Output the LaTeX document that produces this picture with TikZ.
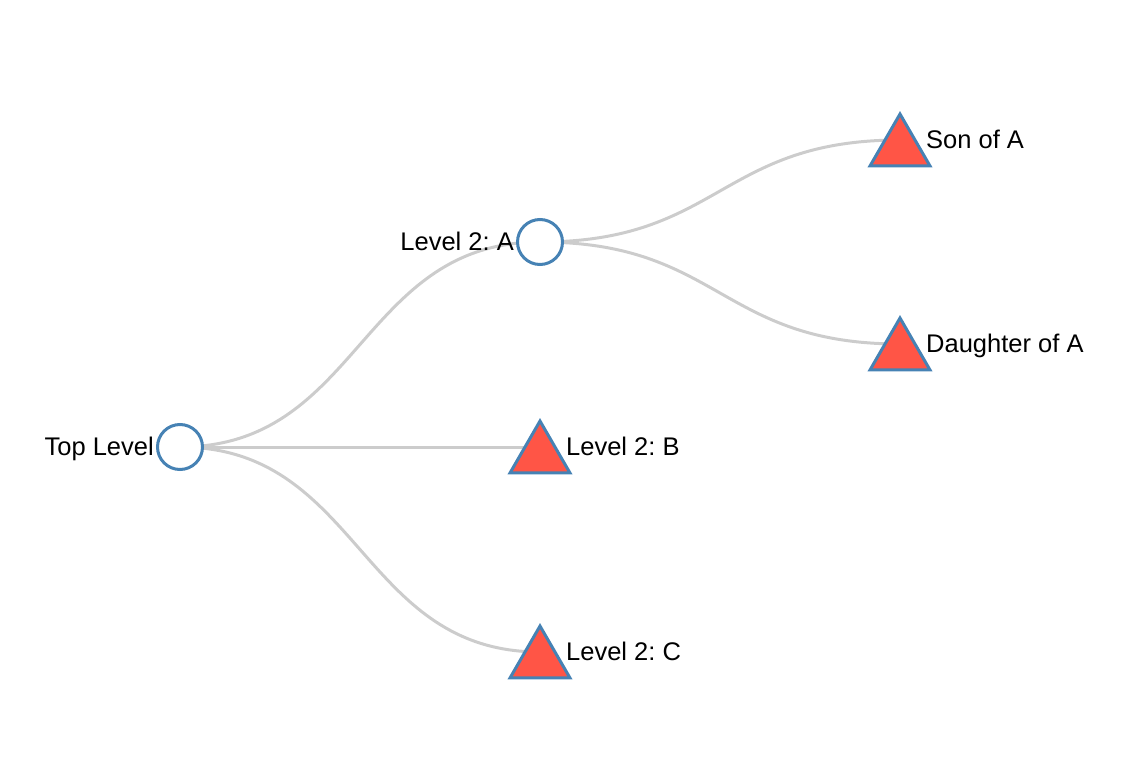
\documentclass[tikz,border=0pt]{standalone}
\usepackage{fontspec}
\setmainfont{Liberation Sans}
\usetikzlibrary{positioning,shapes.geometric}
\definecolor{linkgray}{HTML}{CCCCCC}
\definecolor{nodeblue}{HTML}{4682B4}
\definecolor{leafred}{HTML}{FF5546}
\frenchspacing

\begin{document}
\begin{tikzpicture}[
  x=1pt,y=-1pt,
  link/.style={draw=linkgray,line width=3pt},
  branch/.style={circle,draw=nodeblue,line width=3pt,fill=white,minimum size=45pt,inner sep=0pt},
  leaf/.style={regular polygon,regular polygon sides=3,draw=nodeblue,line width=3pt,fill=leafred,minimum size=69.28pt,inner sep=0pt,yshift=-8.66pt},
  lbl/.style={font=\fontsize{25.5}{30}\selectfont,inner sep=0pt,text height=16.8pt,text depth=0pt}]
  \useasboundingbox (0,0) rectangle (1146,776);
  \coordinate (top) at (180,447);
  \coordinate (la) at (540,242);
  \coordinate (lb) at (540,447);
  \coordinate (lc) at (540,652);
  \coordinate (sona) at (900,140);
  \coordinate (daua) at (900,344);
  % links
  \draw[link] (top) .. controls (360,447) and (360,242) .. (la);
  \draw[link] (top) .. controls (360,447) and (360,447) .. (lb);
  \draw[link] (top) .. controls (360,447) and (360,652) .. (lc);
  \draw[link] (la) .. controls (720,242) and (720,140) .. (sona);
  \draw[link] (la) .. controls (720,242) and (720,344) .. (daua);
  % nodes
  \node[branch] (top-m) at (top) {};
  \node[lbl,left=26pt of top] (top-t) {Top Level};
  \node[branch] (la-m) at (la) {};
  \node[lbl,left=26pt of la] (la-t) {Level 2: A};
  \node[leaf] (lb-m) at (lb) {};
  \node[lbl,right=26pt of lb] (lb-t) {Level 2: B};
  \node[leaf] (lc-m) at (lc) {};
  \node[lbl,right=26pt of lc] (lc-t) {Level 2: C};
  \node[leaf] (sona-m) at (sona) {};
  \node[lbl,right=26pt of sona] (sona-t) {Son of A};
  \node[leaf] (daua-m) at (daua) {};
  \node[lbl,right=26pt of daua] (daua-t) {Daughter of A};
\end{tikzpicture}
\end{document}
